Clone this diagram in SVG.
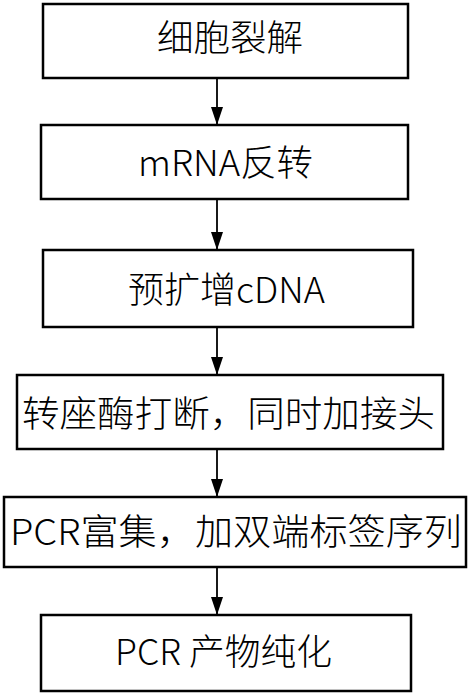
<svg xmlns="http://www.w3.org/2000/svg" width="474" height="696" viewBox="0 0 474 696">
<style>
.box{fill:#fff;stroke:#000;stroke-width:2.5}
.t{font-family:"Noto Sans CJK SC","Noto Sans",sans-serif;font-size:36px;font-weight:300;fill:#000}
.c{stroke:#000;stroke-width:1.8;fill:none}
</style>
<defs>
<marker id="ah" markerUnits="userSpaceOnUse" markerWidth="18" markerHeight="12" refX="18" refY="6" orient="auto">
<path d="M0,0 L18,6 L0,12 z" fill="#000"/>
</marker>
</defs>
<rect width="474" height="696" fill="#fff"/>
<g id="connectors">
<line class="c" x1="217" y1="78" x2="217" y2="125" marker-end="url(#ah)"/>
<line class="c" x1="217" y1="199" x2="217" y2="250" marker-end="url(#ah)"/>
<line class="c" x1="217" y1="327" x2="217" y2="375" marker-end="url(#ah)"/>
<line class="c" x1="217" y1="449" x2="217" y2="497" marker-end="url(#ah)"/>
<line class="c" x1="217" y1="567" x2="217" y2="615" marker-end="url(#ah)"/>
</g>
<g id="n1">
<rect class="box" x="43" y="4" width="365" height="74"/>
<text class="t" x="157" y="51" textLength="146" lengthAdjust="spacingAndGlyphs">细胞裂解</text>
</g>
<g id="n2">
<rect class="box" x="41" y="125" width="367" height="74"/>
<text class="t" x="138" y="176" textLength="175" lengthAdjust="spacingAndGlyphs">mRNA反转</text>
</g>
<g id="n3">
<rect class="box" x="43" y="250" width="370" height="77"/>
<text class="t" x="128" y="303" textLength="197" lengthAdjust="spacingAndGlyphs">预扩增cDNA</text>
</g>
<g id="n4">
<rect class="box" x="17" y="375" width="426" height="74"/>
<text class="t" x="22" y="427" textLength="413" lengthAdjust="spacingAndGlyphs">转座酶打断，同时加接头</text>
</g>
<g id="n5">
<rect class="box" x="4" y="497" width="462" height="70"/>
<text class="t" x="10" y="545" textLength="452" lengthAdjust="spacingAndGlyphs">PCR富集，加双端标签序列</text>
</g>
<g id="n6">
<rect class="box" x="41" y="615" width="370" height="76"/>
<text class="t" x="115" y="665" textLength="217" lengthAdjust="spacingAndGlyphs">PCR 产物纯化</text>
</g>
</svg>
